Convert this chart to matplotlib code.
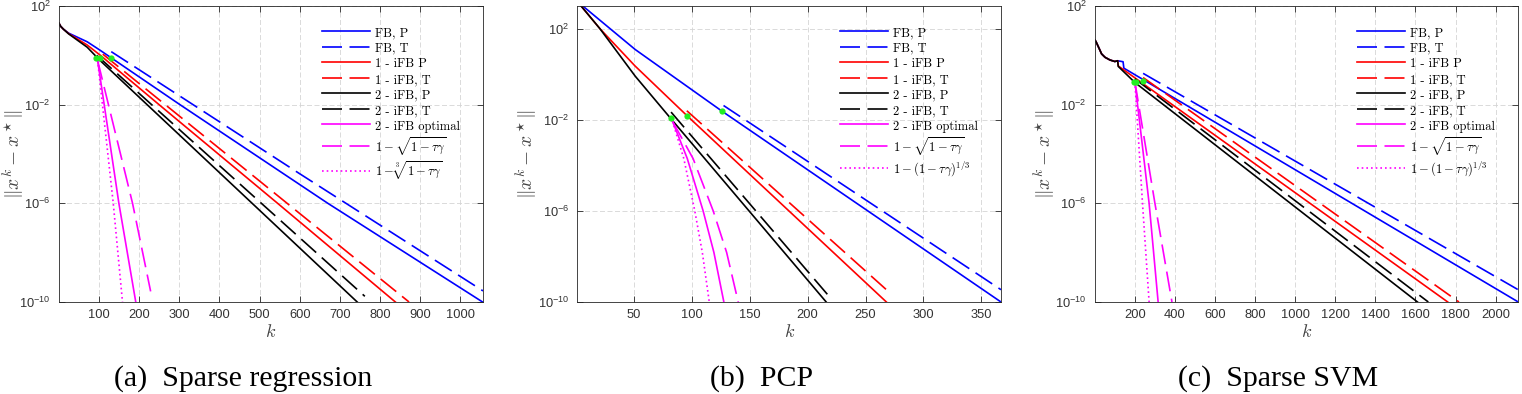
import matplotlib
matplotlib.use('Agg')
import matplotlib.pyplot as plt
from matplotlib.ticker import FixedLocator, FixedFormatter, NullLocator

plt.rcParams['font.family'] = ['Liberation Sans', 'DejaVu Sans']
plt.rcParams['mathtext.fontset'] = 'cm'

# ---------------- (a) Sparse regression ----------------
a_fbP_k = [1, 5, 12, 25, 71, 102, 302, 670, 1055]
a_fbP_v = [20.0, 15.1, 11.5, 7.94, 3.55, 1.66, 1e-2, 1e-6, 1e-10]
a_fbT_k = [131, 600, 1056]
a_fbT_v = [1.41, 1.58e-5, 2.82e-10]
a_i1P_k = [1, 5, 12, 25, 71, 104, 250, 545, 838]
a_i1P_v = [20.0, 15.1, 11.5, 7.59, 2.63, 1.0, 1e-2, 1e-6, 1e-10]
a_i1T_k = [110, 872]
a_i1T_v = [1.12, 1e-10]
a_i2P_k = [1, 5, 12, 25, 71, 102, 743]
a_i2P_v = [20.0, 15.1, 11.5, 7.41, 2.14, 0.646, 1e-10]
a_i2T_k = [95, 762]
a_i2T_v = [1.0, 1.70e-10]
a_opt_k = [97, 150, 192]
a_opt_v = [0.631, 1e-6, 1e-10]
a_sq_k = [97, 184, 229]
a_sq_v = [0.631, 1e-6, 2.69e-10]
a_cb_k = [97, 136, 159]
a_cb_v = [0.631, 1e-6, 1e-10]
a_dot_k = [93, 104, 131]
a_dot_v = [0.759, 0.759, 0.759]
a_xticks = [100, 200, 300, 400, 500, 600, 700, 800, 900, 1000]

# ---------------- (b) PCP ----------------
b_fbP_k = [1, 51, 126, 367]
b_fbP_v = [1585.0, 12.3, 0.0240, 1e-10]
b_fbT_k = [127.3, 367]
b_fbT_v = [0.0427, 3.47e-10]
b_i1P_k = [1, 20.6, 51, 95.6, 268]
b_i1P_v = [1585.0, 100.0, 2.29, 0.0155, 1e-10]
b_i1T_k = [95.6, 268]
b_i1T_v = [0.0251, 3.47e-10]
b_i2P_k = [1, 20.6, 51, 81.7, 216]
b_i2P_v = [1585.0, 100.0, 0.832, 0.0115, 1e-10]
b_i2T_k = [82, 217.3]
b_i2T_v = [0.0219, 2.09e-10]
b_opt_k = [83.2, 96, 109.7, 119, 127.6]
b_opt_v = [0.00871, 2.0e-4, 1e-6, 1.5e-8, 1e-10]
b_sq_k = [83.2, 101, 118.4, 130, 140]
b_sq_v = [0.00871, 2.0e-4, 1e-6, 1.5e-8, 1e-10]
b_cb_k = [83.2, 93, 102.5, 109, 115]
b_cb_v = [0.00871, 2.0e-4, 1e-6, 1.5e-8, 1e-10]
b_dot_k = [81.7, 95.6, 125.9]
b_dot_v = [0.0115, 0.0155, 0.0240]
b_xticks = [50, 100, 150, 200, 250, 300, 350]

# ---------------- (c) Sparse SVM ----------------
c_fbP_k = [1, 6, 21, 34, 51, 76, 100, 114, 141, 145, 2113]
c_fbP_v = [4.17, 3.59, 1.95, 1.14, 0.832, 0.646, 0.562, 0.603, 0.550, 0.302, 1e-10]
c_fbT_k = [241, 2112]
c_fbT_v = [0.186, 3.16e-10]
c_i1P_k = [1, 6, 21, 34, 51, 76, 100, 114, 117, 1761]
c_i1P_v = [4.17, 3.59, 1.95, 1.14, 0.832, 0.646, 0.562, 0.603, 0.372, 1e-10]
c_i1T_k = [241, 1817]
c_i1T_v = [0.126, 1e-10]
c_i2P_k = [1, 6, 21, 34, 51, 76, 100, 114, 117, 200, 1610]
c_i2P_v = [4.17, 3.59, 1.95, 1.14, 0.832, 0.646, 0.562, 0.603, 0.355, 0.0794, 1e-10]
c_i2T_k = [200, 1664]
c_i2T_v = [0.112, 1e-10]
c_opt_k = [200, 271, 316]
c_opt_v = [0.0851, 1e-6, 1e-10]
c_sq_k = [200, 300, 385]
c_sq_v = [0.0851, 1e-6, 1e-10]
c_cb_k = [200, 238, 271]
c_cb_v = [0.0851, 1e-6, 1e-10]
c_dot_k = [198, 204, 241]
c_dot_v = [0.0851, 0.0851, 0.0933]
c_xticks = [200, 400, 600, 800, 1000, 1200, 1400, 1600, 1800, 2000]

labels_common = ['FB, P', 'FB, T', '1 - iFB P', '1 - iFB, T', '2 - iFB, P',
                 '2 - iFB, T', '2 - iFB optimal', r'$1-\sqrt{1-\tau\gamma}$']
label_cb_a = r'$1-\sqrt[3]{1-\tau\gamma}$'
label_cb_bc = r'$1-(1-\tau\gamma)^{1/3}$'
captions = ['(a)  Sparse regression', '(b)  PCP', '(c)  Sparse SVM']

DASH = (0, (12, 4.5))
DOT = (0, (1, 1.8))
styles = [('#0000ff', '-'), ('#0000ff', DASH), ('#ff0000', '-'), ('#ff0000', DASH),
          ('#000000', '-'), ('#000000', DASH), ('#ff00ff', '-'), ('#ff00ff', DASH),
          ('#ff00ff', DOT)]

panels = [
    dict(series=[(a_fbP_k, a_fbP_v), (a_fbT_k, a_fbT_v), (a_i1P_k, a_i1P_v), (a_i1T_k, a_i1T_v),
                 (a_i2P_k, a_i2P_v), (a_i2T_k, a_i2T_v), (a_opt_k, a_opt_v), (a_sq_k, a_sq_v),
                 (a_cb_k, a_cb_v)],
         dots=(a_dot_k, a_dot_v), xticks=a_xticks, xlim=(1, 1056), ylim=(1e-10, 1e2),
         cb=label_cb_a, left=59, right=483, cap=243, ylab=26),
    dict(series=[(b_fbP_k, b_fbP_v), (b_fbT_k, b_fbT_v), (b_i1P_k, b_i1P_v), (b_i1T_k, b_i1T_v),
                 (b_i2P_k, b_i2P_v), (b_i2T_k, b_i2T_v), (b_opt_k, b_opt_v), (b_sq_k, b_sq_v),
                 (b_cb_k, b_cb_v)],
         dots=(b_dot_k, b_dot_v), xticks=b_xticks, xlim=(1, 367), ylim=(1e-10, 1e3),
         cb=label_cb_bc, left=577.3, right=1001, cap=762, ylab=539),
    dict(series=[(c_fbP_k, c_fbP_v), (c_fbT_k, c_fbT_v), (c_i1P_k, c_i1P_v), (c_i1T_k, c_i1T_v),
                 (c_i2P_k, c_i2P_v), (c_i2T_k, c_i2T_v), (c_opt_k, c_opt_v), (c_sq_k, c_sq_v),
                 (c_cb_k, c_cb_v)],
         dots=(c_dot_k, c_dot_v), xticks=c_xticks, xlim=(1, 2113), ylim=(1e-10, 1e2),
         cb=label_cb_bc, left=1095, right=1518.3, cap=1278, ylab=1057),
]

W, H = 1522, 394
fig = plt.figure(figsize=(W / 100, H / 100), dpi=100)
AX_TOP, AX_BOT = 6, 302
GRAY = '#262626'
yt = [1e-10, 1e-6, 1e-2, 1e2]
ytl = [r'$\mathregular{10^{-10}}$', r'$\mathregular{10^{-6}}$', r'$\mathregular{10^{-2}}$',
       r'$\mathregular{10^{2}}$']

for i, p in enumerate(panels):
    aw = p['right'] - p['left']
    ax = fig.add_axes([p['left'] / W, (H - AX_BOT) / H, aw / W, (AX_BOT - AX_TOP) / H])
    ax.set_yscale('log')
    labels = labels_common + [p['cb']]
    for (k, v), (col, ls), lab in zip(p['series'], styles, labels):
        ax.plot(k, v, color=col, linestyle=ls, lw=1.2, label=lab)
    ax.plot(p['dots'][0], p['dots'][1], 'o', color='#22ee22', ms=4.5, mec='none', zorder=5)
    ax.set_xlim(*p['xlim'])
    ax.set_ylim(*p['ylim'])
    ax.xaxis.set_major_locator(FixedLocator(p['xticks']))
    ax.xaxis.set_minor_locator(NullLocator())
    ax.yaxis.set_major_locator(FixedLocator(yt))
    ax.yaxis.set_major_formatter(FixedFormatter(ytl))
    ax.yaxis.set_minor_locator(NullLocator())
    ax.tick_params(direction='in', length=4, width=0.6, colors=GRAY, labelsize=9.3,
                   top=True, right=True, labelcolor='#333333')
    ax.tick_params(axis='x', pad=5)
    ax.tick_params(axis='y', pad=6)
    for s in ax.spines.values():
        s.set_color(GRAY)
        s.set_linewidth(0.6)
    ax.grid(True, which='major', color='#d4d4d4', linestyle=(0, (6, 3)), linewidth=0.6)
    ax.set_axisbelow(True)
    ax.set_xlabel(r'$k$', fontsize=13, color='#404040', labelpad=2)
    ax.set_ylabel(r'$\Vert x^k-x^\star\Vert$', fontsize=14, color='#404040')
    ax.yaxis.set_label_coords((p['ylab'] - p['left']) / aw, 0.5)
    ax.legend(loc='upper left', bbox_to_anchor=(0.62, 0.933), frameon=False,
              prop={'family': 'cmr10', 'size': 9}, handlelength=3.84,
              handletextpad=0.4, handleheight=1.15, labelspacing=0.17,
              borderpad=0, borderaxespad=0)
    fig.text(p['cap'] / W, 8 / H, captions[i], ha='center', va='baseline',
             family='Liberation Serif', fontsize=21.5)

fig.savefig('out.png', dpi=100)
